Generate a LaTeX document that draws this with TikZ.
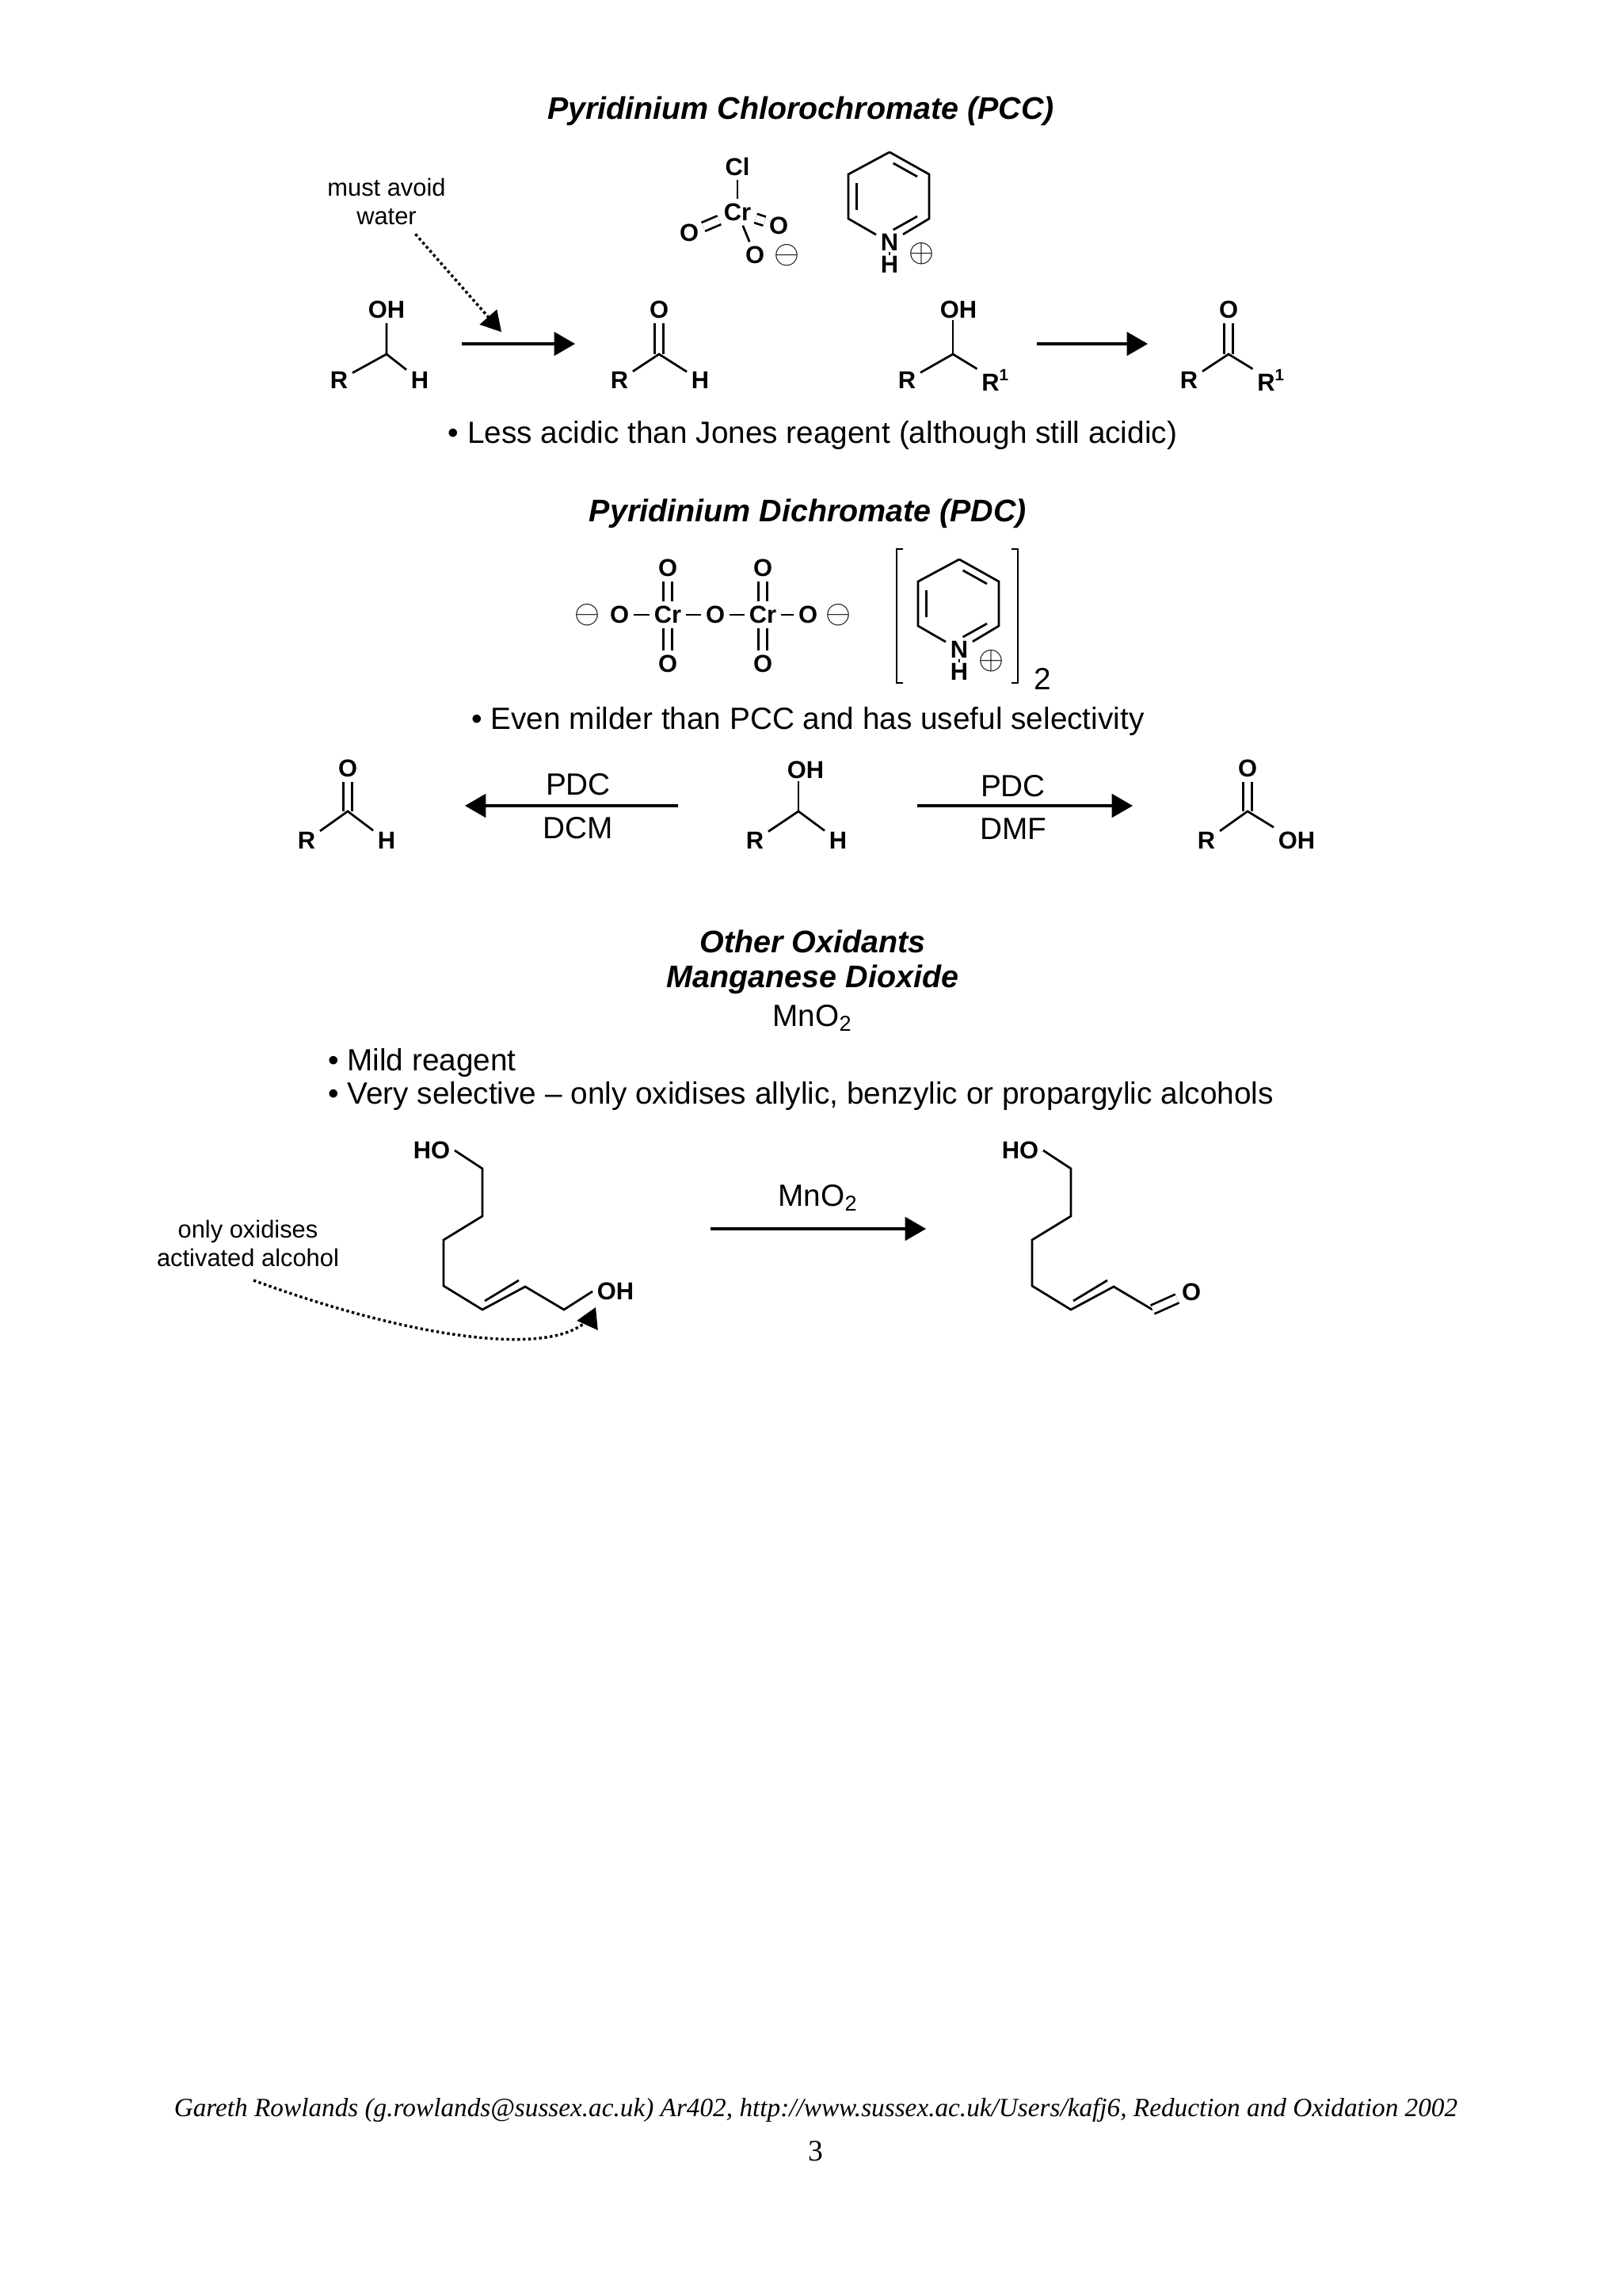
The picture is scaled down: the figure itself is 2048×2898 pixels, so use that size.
\documentclass[tikz,border=0pt]{standalone}
\usepackage{fontspec}
\setmainfont{Liberation Sans}
\newfontfamily\serifit{Liberation Serif}
\usetikzlibrary{positioning, calc, arrows}

\tikzset{atom/.style={font=\bfseries\fontsize{9}{10}\selectfont, inner sep=1.5pt},
  chg/.style={font=\fontsize{12}{12}\selectfont, inner sep=0pt},
  bond/.style={line width=0.8pt},
  dbl/.style={line width=0.8pt, double, double distance=2.6pt},
  rxn/.style={line width=1.1pt, -triangle 60},
  note/.style={font=\fontsize{9}{10.5}\selectfont, align=center},
  body/.style={font=\fontsize{11.3}{13}\selectfont},
  head/.style={font=\bfseries\itshape\fontsize{11.5}{14}\selectfont}}

% pyridinium ring, N at the bottom; #1 = prefix of names
\newcommand{\pyridinium}[1]{%
  \coordinate (#1a) at (1123,192);
  \coordinate (#1b) at (1173,220);
  \coordinate (#1c) at (1173,276);
  \node[atom] (#1n) at (1123,306) {N};
  \coordinate (#1e) at (1071,276);
  \coordinate (#1f) at (1071,220);
  \node[atom] (#1h) at (1123,334) {H};
  \node[chg] at (1163,320) {$\oplus$};
  \draw[bond] (#1a) -- (#1b) -- (#1c) -- (#1n) -- (#1e) -- (#1f) -- (#1a);
  \draw[bond] (#1n) -- (#1h);
  \draw[bond] (1127.6,205.9) -- (1158,222.9);
  \draw[bond] (1081.2,265) -- (1081.2,231);
  \draw[bond] (1158,273.1) -- (1127.6,290.1);
}

\begin{document}
\begin{tikzpicture}[x=0.1025mm, y=-0.1025mm, >=stealth]
  \useasboundingbox (0,0) rectangle (2048,2898);

  % PCC
  \node[head] (pcctitle) at (1011,140) {Pyridinium Chlorochromate (PCC)};
  \node[atom] (cl) at (931,210) {Cl};
  \node[atom] (cr) at (931,268) {Cr};
  \node[atom] (ol) at (870,294) {O};
  \node[atom] (or) at (983,285) {O};
  \node[atom] (om) at (953,322) {O};
  \node[chg] at (993,322) {$\ominus$};
  \draw[bond] (cl) -- (cr);
  \draw[dbl] (cr) -- (ol);
  \draw[dbl] (cr) -- (or);
  \draw[bond] (cr) -- (om);
  \pyridinium{p}

  \node[note] (water) at (488,254) {must avoid\\water};
  % row 1
  \node[atom] (a1oh) at (488,391) {OH};
  \coordinate (a1c) at (488,447);
  \node[atom] (a1r) at (428,480) {R};
  \node[atom] (a1h) at (530,480) {H};
  \draw[bond] (a1oh) -- (a1c) -- (a1r);
  \draw[bond] (a1c) -- (a1h);
  \coordinate (r1s) at (583,434);
  \coordinate (r1e) at (726,434);
  \draw[rxn] (r1s) -- (r1e);
  \coordinate (w1) at (633,419);
  \draw[line width=1pt, densely dotted, -triangle 60] (water) -- (w1);
  \node[atom] (a2o) at (832,391) {O};
  \coordinate (a2c) at (832,447);
  \node[atom] (a2r) at (782,480) {R};
  \node[atom] (a2h) at (884,480) {H};
  \draw[dbl] (a2o) -- (a2c);
  \draw[bond] (a2r) -- (a2c) -- (a2h);
  \node[atom] (a3oh) at (1210,391) {OH};
  \coordinate (a3c) at (1203,447);
  \node[atom] (a3r) at (1145,480) {R};
  \node[atom] (a3r1) at (1257,480) {R\textsuperscript{1}};
  \draw[bond] (1203,404) -- (a3c);
  \draw[bond] (a3r) -- (a3c) -- (a3r1);
  \coordinate (r2s) at (1309,434);
  \coordinate (r2e) at (1449,434);
  \draw[rxn] (r2s) -- (r2e);
  \node[atom] (a4o) at (1551,391) {O};
  \coordinate (a4c) at (1551,447);
  \node[atom] (a4r) at (1501,480) {R};
  \node[atom] (a4r1) at (1605,480) {R\textsuperscript{1}};
  \draw[dbl] (a4o) -- (a4c);
  \draw[bond] (a4r) -- (a4c) -- (a4r1);
  \node[body] (b1) at (1026,549) {\textbullet{} Less acidic than Jones reagent (although still acidic)};

  % PDC
  \node[head] (pdctitle) at (1020,648) {Pyridinium Dichromate (PDC)};
  \node[chg] at (741,776) {$\ominus$};
  \node[atom] (d1) at (782,776) {O};
  \node[atom] (dcr1) at (843,776) {Cr};
  \node[atom] (d2) at (903,776) {O};
  \node[atom] (dcr2) at (963,776) {Cr};
  \node[atom] (d3) at (1020,776) {O};
  \node[chg] at (1058,776) {$\ominus$};
  \node[atom] (d1t) at (843,717) {O};
  \node[atom] (d1b) at (843,838) {O};
  \node[atom] (d2t) at (963,717) {O};
  \node[atom] (d2b) at (963,838) {O};
  \draw[bond] (d1) -- (dcr1) -- (d2) -- (dcr2) -- (d3);
  \foreach \a/\b in {dcr1/d1t, dcr1/d1b, dcr2/d2t, dcr2/d2b}
    \draw[dbl] (\a) -- (\b);
  \begin{scope}[shift={(88,514)}]
    \pyridinium{q}
  \end{scope}
  \draw[bond] (1140,693) -- (1132,693) -- (1132,862) -- (1140,862);
  \draw[bond] (1277,693) -- (1285,693) -- (1285,862) -- (1277,862);
  \node[body] (sub2) at (1316,857) {2};
  \node[body] (b2) at (1020,910) {\textbullet{} Even milder than PCC and has useful selectivity};

  % PDC reactions
  \node[atom] (c1o) at (439,970) {O};
  \coordinate (c1c) at (439,1024);
  \node[atom] (c1r) at (387,1061) {R};
  \node[atom] (c1h) at (488,1061) {H};
  \draw[dbl] (c1o) -- (c1c);
  \draw[bond] (c1r) -- (c1c) -- (c1h);
  \coordinate (l1s) at (856,1017);
  \coordinate (l1e) at (587,1017);
  \draw[rxn] (l1s) -- (l1e);
  \node[body] (pdc1) at (730,990) {PDC};
  \node[body] (dcm) at (730,1045) {DCM};
  \node[atom] (c2oh) at (1017,972) {OH};
  \coordinate (c2c) at (1008,1024);
  \node[atom] (c2r) at (953,1061) {R};
  \node[atom] (c2h) at (1058,1061) {H};
  \draw[bond] (1008,986) -- (c2c);
  \draw[bond] (c2r) -- (c2c) -- (c2h);
  \coordinate (l2s) at (1158,1017);
  \coordinate (l2e) at (1430,1017);
  \draw[rxn] (l2s) -- (l2e);
  \node[body] (pdc2) at (1279,992) {PDC};
  \node[body] (dmf) at (1279,1046) {DMF};
  \node[atom] (c3o) at (1575,970) {O};
  \coordinate (c3c) at (1575,1024);
  \node[atom] (c3r) at (1523,1061) {R};
  \node[atom] (c3oh) at (1637,1061) {OH};
  \draw[dbl] (c3o) -- (c3c);
  \draw[bond] (c3r) -- (c3c) -- (c3oh.north west);

  % MnO2
  \node[head] (other) at (1026,1188) {Other Oxidants};
  \node[head] (mang) at (1026,1236) {Manganese Dioxide};
  \node[body] (mno2) at (1026,1285) {MnO\textsubscript{2}};
  \node[body, anchor=west] (b3) at (402,1341) {\textbullet{} Mild reagent};
  \node[body, anchor=west] (b4) at (402,1383) {\textbullet{} Very selective -- only oxidises allylic, benzylic or propargylic alcohols};

  \node[atom] (e1ho) at (545,1452) {HO};
  \node[atom] (e1oh) at (777,1630) {OH};
  \draw[bond] (e1ho.east) -- (609,1475) -- (609,1535) -- (560,1565) -- (560,1623)
    -- (609,1653) -- (663,1624) -- (712,1653) -- (e1oh.west);
  \draw[bond] (612,1642) -- (655,1616);
  \coordinate (e1tip) at (752,1650);
  \node[note] (act) at (313,1569) {only oxidises\\activated alcohol};
  \draw[line width=1pt, densely dotted, -triangle 60] (320,1616) .. controls (520,1690) and (720,1720) .. (e1tip);
  \coordinate (m1s) at (897,1551);
  \coordinate (m1e) at (1169,1551);
  \draw[rxn] (m1s) -- (m1e);
  \node[body] (mno2b) at (1033,1512) {MnO\textsubscript{2}};
  \node[atom] (e2ho) at (1288,1452) {HO};
  \node[atom] (e2o) at (1504,1631) {O};
  \draw[bond] (e2ho.east) -- (1352,1475) -- (1352,1535) -- (1303,1565) -- (1303,1623)
    -- (1352,1653) -- (1406,1624) -- (1455,1653);
  \draw[dbl] (1455,1653) -- (e2o);
  \draw[bond] (1355,1642) -- (1398,1616);

  % footer
  \node[font=\serifit\itshape\fontsize{9.7}{12}\selectfont] (foot) at (1030,2663)
    {Gareth Rowlands (g.rowlands@sussex.ac.uk) Ar402, http://www.sussex.ac.uk/Users/kafj6, Reduction and Oxidation 2002};
  \node[font=\serifit\fontsize{11}{12}\selectfont] (page) at (1030,2715) {3};
\end{tikzpicture}
\end{document}
